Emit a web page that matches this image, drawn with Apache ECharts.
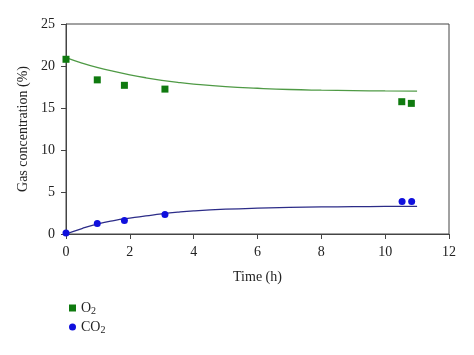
<!DOCTYPE html>
<html><head><meta charset="utf-8">
<script src="https://cdn.jsdelivr.net/npm/echarts@6/dist/echarts.min.js"></script>
<style>html,body{margin:0;padding:0;background:#fff}#c{width:474px;height:355px}</style>
</head><body><div id="c"></div>
<script>
// measured points
const o2Time = [0, 0.98, 1.83, 3.1, 10.52, 10.82];
const o2Values = [20.8, 18.35, 17.7, 17.25, 15.75, 15.55];
const co2Time = [0, 0.98, 1.83, 3.1, 10.53, 10.83];
const co2Values = [0.12, 1.26, 1.62, 2.33, 3.88, 3.88];
// fitted curves
const curveTime = [0, 0.5, 1, 1.5, 2, 2.5, 3, 3.5, 4, 5, 6, 7, 8, 9, 10, 11];
const o2Curve = [21.0, 20.35, 19.8, 19.35, 18.95, 18.6, 18.3, 18.05, 17.85, 17.55, 17.35, 17.2, 17.12, 17.07, 17.03, 17.0];
const co2Curve = [0, 0.65, 1.2, 1.6, 1.9, 2.15, 2.4, 2.6, 2.75, 2.95, 3.08, 3.16, 3.22, 3.25, 3.28, 3.3];
const xTicks = [0, 2, 4, 6, 8, 10, 12];
const yTicks = [0, 5, 10, 15, 20, 25];

const font = "'Liberation Serif', 'DejaVu Serif', serif";
const zip = (a, b) => a.map((v, i) => [v, b[i]]);
const chart = echarts.init(document.getElementById('c'));
chart.setOption({
  animation: false,
  textStyle: { fontFamily: font },
  grid: { left: 66, right: 25, top: 24, bottom: 121, show: true, borderColor: '#444', borderWidth: 1 },
  xAxis: {
    type: 'value', min: xTicks[0], max: xTicks[xTicks.length - 1], interval: 2,
    name: 'Time (h)', nameLocation: 'middle', nameGap: 36,
    nameTextStyle: { fontFamily: font, fontSize: 14, color: '#222' },
    axisLine: { lineStyle: { color: '#444' } },
    axisTick: { length: 5, lineStyle: { color: '#444' } },
    axisLabel: { fontFamily: font, fontSize: 14, color: '#222', margin: 11 },
    splitLine: { show: false }
  },
  yAxis: {
    type: 'value', min: yTicks[0], max: yTicks[yTicks.length - 1], interval: 5,
    name: 'Gas concentration (%)', nameLocation: 'middle', nameGap: 35,
    nameTextStyle: { fontFamily: font, fontSize: 14, color: '#222' },
    axisLine: { show: true, lineStyle: { color: '#444' } },
    axisTick: { show: true, length: 5, lineStyle: { color: '#444' } },
    axisLabel: { fontFamily: font, fontSize: 14, color: '#222', margin: 11 },
    splitLine: { show: false }
  },
  legend: {
    orient: 'vertical', left: 64, top: 296, itemGap: 4, itemWidth: 7, itemHeight: 7,
    data: [{ name: 'O2', icon: 'rect' }, { name: 'CO2', icon: 'circle' }],
    formatter: n => n === 'O2' ? '{a|O}{b|2}' : '{a|CO}{b|2}',
    textStyle: {
      fontFamily: font, fontSize: 14, color: '#222',
      rich: {
        a: { fontFamily: font, fontSize: 14, color: '#222' },
        b: { fontFamily: font, fontSize: 10, color: '#222', verticalAlign: 'bottom', padding: [6, 0, 0, 0] }
      }
    }
  },
  series: [
    { name: 'O2 fit', type: 'line', data: zip(curveTime, o2Curve), showSymbol: false, smooth: true,
      lineStyle: { color: '#4f9a45', width: 1.3 }, z: 2 },
    { name: 'CO2 fit', type: 'line', data: zip(curveTime, co2Curve), showSymbol: false, smooth: true,
      lineStyle: { color: '#2c2c88', width: 1.3 }, z: 2 },
    { name: 'O2', type: 'scatter', data: zip(o2Time, o2Values), symbol: 'rect', symbolSize: 7,
      itemStyle: { color: '#0f7a0f', opacity: 1 }, z: 3 },
    { name: 'CO2', type: 'scatter', data: zip(co2Time, co2Values), symbol: 'circle', symbolSize: 7,
      itemStyle: { color: '#1010dd', opacity: 1 }, z: 3 }
  ]
});
</script></body></html>
